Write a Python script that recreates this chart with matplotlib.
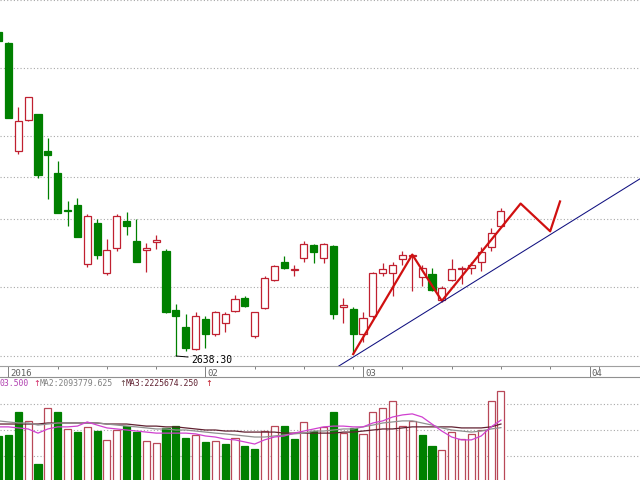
import matplotlib
matplotlib.use("Agg")
import matplotlib.pyplot as plt

# daily K line (Shanghai Composite, 2015-12-31 .. 2016-03-21)
opens  = [3572, 3537, 3197, 3291, 3310, 3195, 3132, 3026, 3040, 2875,
          2989, 2852, 2918, 2995, 2937, 2914, 2936, 2910, 2755, 2712,
          2656, 2732, 2692, 2722, 2753, 2786, 2689, 2760, 2833, 2882,
          2859, 2893, 2926, 2893, 2924, 2763, 2758, 2694, 2738, 2852,
          2852, 2890, 2897, 2842, 2850, 2781, 2833, 2861, 2864, 2880,
          2921, 2981]
highs  = [3580, 3539, 3330, 3362, 3310, 3235, 3166, 3050, 3060, 3012,
          3000, 2945, 3014, 3020, 3000, 2932, 2956, 2916, 2771, 2743,
          2750, 2738, 2752, 2750, 2794, 2791, 2750, 2844, 2874, 2896,
          2872, 2937, 2930, 2932, 2927, 2786, 2762, 2750, 2853, 2877,
          2882, 2912, 2903, 2872, 2866, 2817, 2890, 2869, 2882, 2921,
          2973, 3031]
lows   = [3538, 3296, 3188, 3288, 3116, 3057, 3016, 2981, 2948, 2868,
          2888, 2846, 2910, 2954, 2880, 2855, 2915, 2746, 2638.3, 2651,
          2654, 2658, 2688, 2699, 2750, 2762, 2682, 2757, 2830, 2861,
          2844, 2882, 2877, 2877, 2732, 2720, 2643, 2674, 2735, 2844,
          2791, 2874, 2804, 2817, 2803, 2776, 2831, 2822, 2850, 2858,
          2912, 2978]
closes = [3542, 3296, 3289, 3362, 3125, 3186, 3017, 3022, 2950, 3008,
          2901, 2914, 3009, 2981, 2882, 2918, 2940, 2750, 2740, 2658,
          2740, 2692, 2750, 2743, 2783, 2766, 2748, 2839, 2869, 2866,
          2861, 2929, 2907, 2929, 2743, 2768, 2692, 2735, 2852, 2861,
          2874, 2899, 2900, 2864, 2806, 2811, 2861, 2866, 2872, 2907,
          2959, 3023]

# volume (millions) and bar colour (1 = red hollow, 0 = green)
volume = [1.77, 1.81, 2.69, 2.35, 0.69, 2.85, 2.69, 2.04, 1.92, 2.12,
          1.96, 1.62, 2.00, 2.15, 1.92, 1.58, 1.50, 2.08, 2.15, 1.69,
          1.81, 1.54, 1.58, 1.46, 1.69, 1.38, 1.27, 1.96, 2.15, 2.15,
          1.65, 2.31, 1.96, 2.12, 2.69, 1.88, 2.08, 1.85, 2.69, 2.85,
          3.12, 2.15, 2.35, 1.81, 1.38, 1.23, 1.92, 1.65, 1.85, 2.00,
          3.12, 3.50]
vol_up = [0, 0, 0, 1, 0, 1, 0, 1, 0, 1,
          0, 1, 1, 0, 0, 1, 1, 0, 0, 0,
          1, 0, 1, 0, 1, 0, 0, 1, 1, 0,
          0, 1, 0, 1, 0, 1, 0, 1, 1, 1,
          1, 1, 1, 0, 0, 1, 1, 1, 1, 1,
          1, 1]
ma1 = [2.12, 2.12, 2.08, 2.04, 1.88, 2.04, 2.12, 2.12, 2.15, 2.31,
       2.19, 2.08, 2.04, 2.00, 1.96, 1.92, 1.88, 1.88, 1.88, 1.88,
       1.85, 1.77, 1.73, 1.65, 1.62, 1.54, 1.46, 1.62, 1.73, 1.77,
       1.88, 1.96, 2.04, 2.12, 2.15, 2.15, 2.12, 2.12, 2.27, 2.35,
       2.50, 2.58, 2.62, 2.50, 2.23, 1.96, 1.73, 1.62, 1.62, 1.77,
       2.12, 2.38]
ma2 = [2.35, 2.31, 2.27, 2.27, 2.19, 2.23, 2.27, 2.27, 2.27, 2.27,
       2.27, 2.23, 2.19, 2.15, 2.12, 2.08, 2.04, 2.04, 2.00, 2.00,
       1.96, 1.92, 1.88, 1.85, 1.81, 1.77, 1.73, 1.73, 1.77, 1.81,
       1.85, 1.88, 1.96, 1.96, 2.00, 2.04, 2.04, 2.12, 2.19, 2.27,
       2.31, 2.35, 2.35, 2.27, 2.19, 2.08, 2.00, 1.96, 1.92, 1.96,
       2.04, 2.09]
ma3 = [2.23, 2.23, 2.23, 2.23, 2.23, 2.27, 2.27, 2.27, 2.27, 2.27,
       2.27, 2.23, 2.23, 2.23, 2.19, 2.15, 2.15, 2.12, 2.12, 2.08,
       2.04, 2.00, 2.00, 1.96, 1.96, 1.92, 1.92, 1.92, 1.92, 1.88,
       1.88, 1.88, 1.88, 1.88, 1.88, 1.92, 1.92, 1.96, 2.00, 2.04,
       2.04, 2.08, 2.12, 2.12, 2.12, 2.12, 2.12, 2.08, 2.08, 2.08,
       2.12, 2.23]

# hand drawn lines
zig_x = [36, 42, 45, 53, 56, 57]
zig_y = [2643, 2901, 2778, 3043, 2965, 3049]
trend_x = [34.5, 65.1]
trend_y = [2613, 3114]

grid_levels = [3682, 3455, 3242, 3120, 3000, 2814, 2638]
vol_grid = [1, 2, 3]
tick_pos = list(range(1, 62, 5))
month_pos = [1, 21, 37, 60]
month_lbl = ["2016", "02", "03", "04"]

RED = "#c02030"
GREEN = "#008000"
VRED = "#b84858"
W, H = 640, 481
XL = (0.142, 65.12)

fig = plt.figure(figsize=(6.4, 4.81), dpi=100)
fig.patch.set_facecolor("white")

### price pane ###
ax = fig.add_axes([0, 114 / H, 1, 367 / H])
ax.set_yscale("log")
ax.set_xlim(*XL)
ax.set_ylim(2613.7, 3685.3)
ax.axis("off")
for g in grid_levels:
    ax.axhline(g, color="#a8a8a8", lw=0.8, ls=(0, (1, 2)), zorder=0)

n = len(opens)
xs = list(range(n))
for i in xs:
    up = closes[i] >= opens[i]
    c = RED if up else GREEN
    ax.vlines(i, lows[i], highs[i], color=c, lw=0.9, zorder=1)
    lo, hi = min(opens[i], closes[i]), max(opens[i], closes[i])
    ax.bar(i, hi - lo, bottom=lo, width=0.72,
           facecolor="white" if up else GREEN, edgecolor=c, lw=0.9, zorder=2)

ax.plot(zig_x, zig_y, color="#d01010", lw=1.6, zorder=3)
ax.plot(trend_x, trend_y, color="#101080", lw=0.75, zorder=3, clip_on=False)

ax.annotate("2638.30", xy=(18, 2638.3), xytext=(15, -3), textcoords="offset pixels",
            ha="left", va="center", fontsize=7, family="DejaVu Sans Mono", color="black",
            arrowprops=dict(arrowstyle="-", color="black", lw=0.7, shrinkA=0, shrinkB=0))

### date strip ###
sx = fig.add_axes([0, 103 / H, 1, 11 / H])
sx.set_xlim(*XL)
sx.set_ylim(0, 1)
sx.set_xticks([])
sx.set_yticks([])
for s in ["left", "right"]:
    sx.spines[s].set_visible(False)
sx.spines["top"].set_color("#a0a0a0")
sx.spines["bottom"].set_color("#909090")
sx.vlines(tick_pos, 0.75, 1.0, color="#808080", lw=0.7)
sx.vlines(month_pos, 0.0, 1.0, color="#808080", lw=0.7)
for p, t in zip(month_pos, month_lbl):
    sx.text(p + 0.2, 0.42, t, ha="left", va="center", fontsize=6.5,
            family="DejaVu Sans Mono", color="#606060")

### volume pane ###
vx = fig.add_axes([0, 0, 1, 102 / H])
vx.set_xlim(*XL)
vx.set_ylim(2 / 26, 104 / 26)
vx.axis("off")
for g in vol_grid:
    vx.axhline(g, color="#a8a8a8", lw=0.8, ls=(0, (1, 2)), zorder=0)
for i in xs:
    if vol_up[i]:
        vx.bar(i, volume[i], width=0.72, facecolor="white", edgecolor=VRED, lw=0.9, zorder=2)
    else:
        vx.bar(i, volume[i], width=0.72, facecolor=GREEN, edgecolor=GREEN, lw=0.9, zorder=2)
vx.plot(xs, ma3, color="#602030", lw=0.9, zorder=3)
vx.plot(xs, ma2, color="#909090", lw=0.9, zorder=3)
vx.plot(xs, ma1, color="#d040d0", lw=0.9, zorder=3)

def ftext(x, y, s, color, **kw):
    fig.text(x / W, 1 - y / H, s, color=color, fontsize=5.9, ha="left", va="center", **kw)

ftext(0, 384, "03.500", "#b040b0", family="DejaVu Sans Mono")
ftext(33, 384, "↑", "#d02060", family="DejaVu Sans")
ftext(40, 384, "MA2:2093779.625", "#808080", family="DejaVu Sans Mono")
ftext(119, 384, "↑", "#604040", family="DejaVu Sans")
ftext(126, 384, "MA3:2225674.250", "#602030", family="DejaVu Sans Mono")
ftext(205, 384, "↑", "#c01020", family="DejaVu Sans")

fig.savefig("out.png", dpi=100)
